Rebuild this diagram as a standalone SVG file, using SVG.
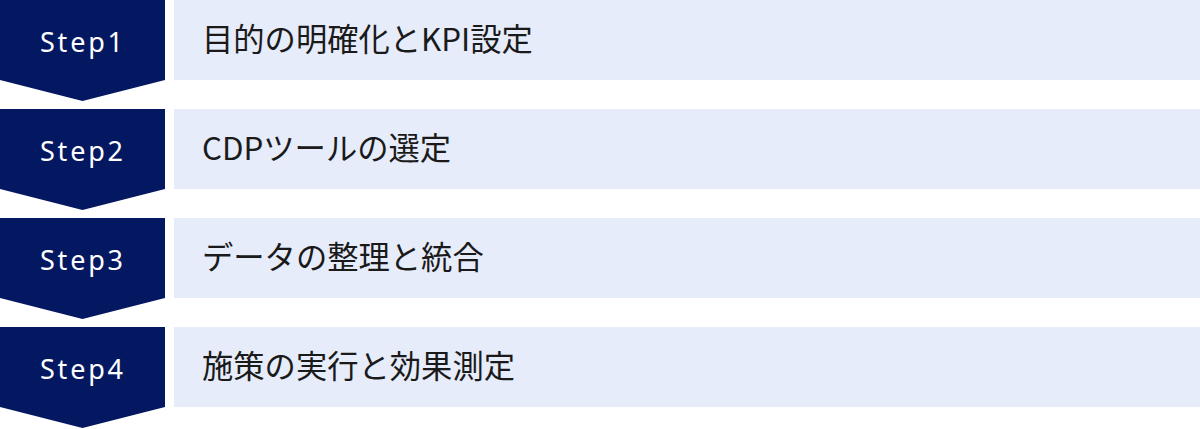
<svg xmlns="http://www.w3.org/2000/svg" width="1200" height="429" viewBox="0 0 1200 429">
<defs>
<style>
.arrow{fill:#041862;}
.bar{fill:#E6ECFA;}
.step{font-family:"Noto Sans","Noto Sans CJK JP",sans-serif;font-size:27px;fill:#ffffff;letter-spacing:2.8px;}
.label{font-family:"Noto Sans CJK JP","Noto Sans",sans-serif;font-size:31.3px;fill:#1a1a1a;}
</style>
<polygon id="chev" points="0,0 165,0 165,80 82.5,101 0,80"/>
</defs>
<rect width="1200" height="429" fill="#ffffff"/>
<g id="connectors"></g>
<g id="step1">
<use href="#chev" class="arrow"/>
<rect class="bar" x="174" y="0" width="1026" height="80"/>
<text class="step" x="40" y="52">Step1</text>
<text class="label" x="202" y="51">目的の明確化とKPI設定</text>
</g>
<g id="step2" transform="translate(0,109)">
<use href="#chev" class="arrow"/>
<rect class="bar" x="174" y="0" width="1026" height="80"/>
<text class="step" x="40" y="52">Step2</text>
<text class="label" x="202" y="51">CDPツールの選定</text>
</g>
<g id="step3" transform="translate(0,218)">
<use href="#chev" class="arrow"/>
<rect class="bar" x="174" y="0" width="1026" height="80"/>
<text class="step" x="40" y="52">Step3</text>
<text class="label" x="202" y="51">データの整理と統合</text>
</g>
<g id="step4" transform="translate(0,327)">
<use href="#chev" class="arrow"/>
<rect class="bar" x="174" y="0" width="1026" height="80"/>
<text class="step" x="40" y="52">Step4</text>
<text class="label" x="202" y="51">施策の実行と効果測定</text>
</g>
</svg>
